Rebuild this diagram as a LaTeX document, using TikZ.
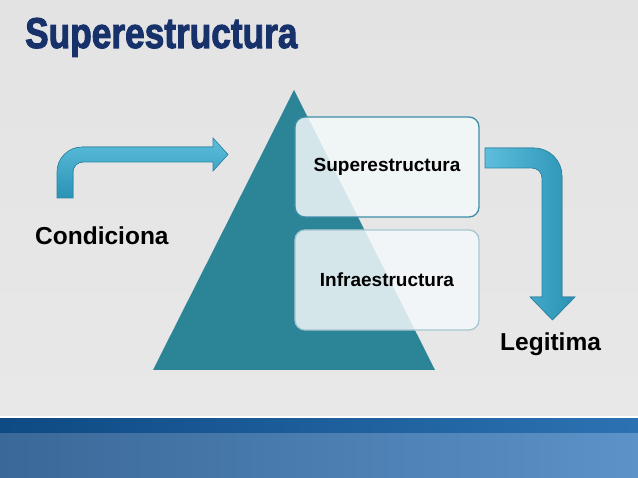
\documentclass[tikz,border=0pt]{standalone}
\usepackage{fontspec}
\setmainfont{Liberation Sans}
\newfontfamily\titlefont{Liberation Sans}[BoldFeatures={FakeBold=2.6}]
\definecolor{bgtop}{HTML}{E3E3E3}
\definecolor{bgbot}{HTML}{E8E8E8}
\definecolor{tri}{HTML}{2C8497}
\definecolor{arrlight}{HTML}{5DBEDC}
\definecolor{arrdark}{HTML}{2A92B4}
\definecolor{arredge}{HTML}{2786A6}
\definecolor{boxedge}{HTML}{3D8EA7}
\definecolor{boxedgeb}{HTML}{A6C7D2}
\definecolor{boxfill}{HTML}{F3F8FA}
\definecolor{titleblue}{HTML}{17326A}
\definecolor{banddarkL}{HTML}{0E4A84}
\definecolor{banddarkR}{HTML}{2C72B2}
\definecolor{bandL}{HTML}{3A6898}
\definecolor{bandR}{HTML}{5C92C8}
\tikzset{
  pbox/.style={draw, line width=1.3pt, rounded corners=10pt, fill=boxfill,
    fill opacity=0.85, text opacity=1, minimum width=184pt, minimum height=100pt,
    font=\fontsize{19}{21}\selectfont\bfseries, text=black},
  lbl/.style={font=\fontsize{24.5}{27}\selectfont\bfseries, text=black, inner sep=0pt},
  bentarrow/.style={draw=arredge, line width=0.6pt}
}
\begin{document}
\begin{tikzpicture}[x=1pt,y=-1pt]
\useasboundingbox (0,0) rectangle (638,478);
% background
\fill[top color=bgtop, bottom color=bgbot] (0,0) rectangle (638,418);
\fill[white] (0,416.5) rectangle (638,418.5);
\fill[left color=banddarkL, right color=banddarkR] (0,418.5) rectangle (638,434);
\fill[left color=bandL, right color=bandR] (0,434) rectangle (638,478);
% title
\node[anchor=base west, inner sep=0pt, xscale=0.82, text=titleblue] (title) at (25,48)
  {\titlefont\bfseries\fontsize{43}{45}\selectfont Superestructura};
% pyramid
\coordinate (apex) at (294,90);
\coordinate (bl) at (153,370);
\coordinate (br) at (435,370);
\fill[tri] (apex) -- (bl) -- (br) -- cycle;
% boxes
\node[pbox, draw=boxedge] (sup) at (387,167) {Superestructura};
\node[pbox, draw=boxedgeb] (inf) at (387,280) {Infraestructura};
% left bent arrow
\fill[top color=arrlight, bottom color=arrdark]
  (57,198) -- (57,172) .. controls (57,158.2) and (68.2,147) .. (82,147)
  -- (213,147) -- (213,138) -- (228,154.5) -- (213,171) -- (213,162)
  -- (83,162) .. controls (77.5,162) and (73,166.5) .. (73,172)
  -- (73,198) -- cycle;
\draw[bentarrow]
  (57,198) -- (57,172) .. controls (57,158.2) and (68.2,147) .. (82,147)
  -- (213,147) -- (213,138) -- (228,154.5) -- (213,171) -- (213,162)
  -- (83,162) .. controls (77.5,162) and (73,166.5) .. (73,172)
  -- (73,198) -- cycle;
% right bent arrow
\fill[left color=arrlight, right color=arrdark]
  (485,148) -- (534,148) .. controls (549.5,148) and (562,160.5) .. (562,176)
  -- (562,297) -- (575,297) -- (552.5,320) -- (530,297) -- (542,297)
  -- (542,178) .. controls (542,172.5) and (537.5,168) .. (532,168)
  -- (485,168) -- cycle;
\draw[bentarrow]
  (485,148) -- (534,148) .. controls (549.5,148) and (562,160.5) .. (562,176)
  -- (562,297) -- (575,297) -- (552.5,320) -- (530,297) -- (542,297)
  -- (542,178) .. controls (542,172.5) and (537.5,168) .. (532,168)
  -- (485,168) -- cycle;
% labels
\node[lbl, anchor=base west] (cond) at (35,245) {Condiciona};
\node[lbl, anchor=base west] (leg) at (500,351) {Legitima};
\end{tikzpicture}
\end{document}
